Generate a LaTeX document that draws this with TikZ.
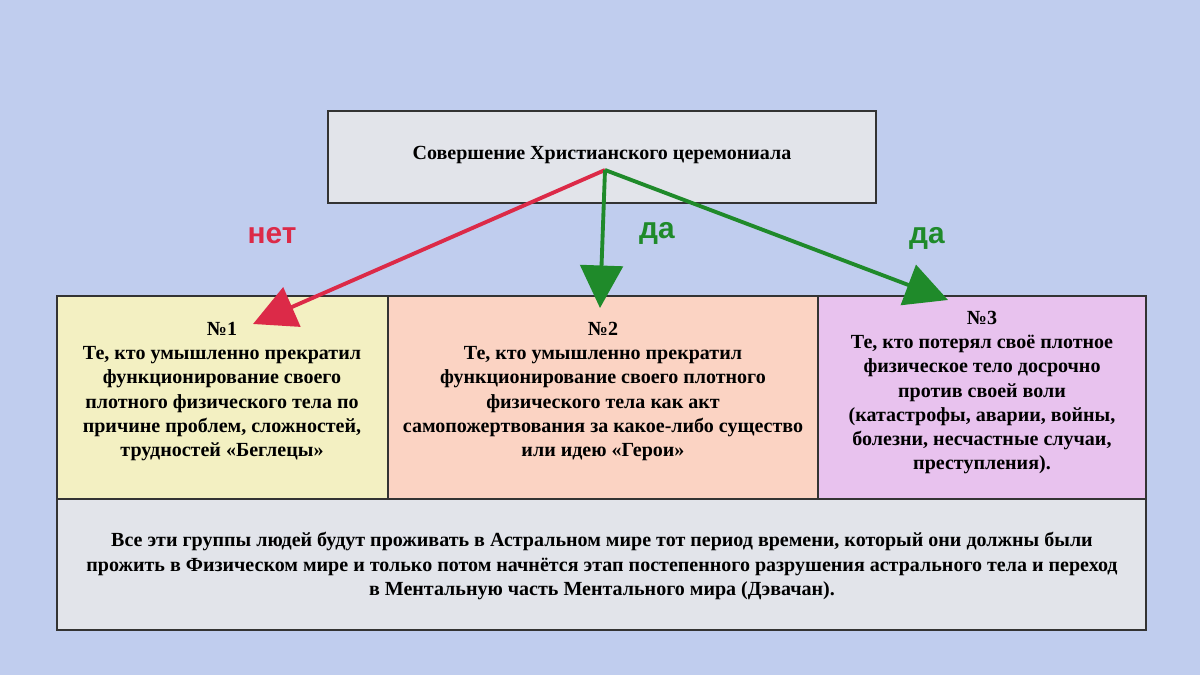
\documentclass[tikz,border=0pt]{standalone}
\usepackage{fontspec}
\setmainfont{Liberation Serif}
\newfontfamily\lblfont{Liberation Sans}
\usetikzlibrary{arrows.meta,positioning}
\definecolor{bgblue}{HTML}{C0CDEE}
\definecolor{boxgrey}{HTML}{E2E4EA}
\definecolor{boxyellow}{HTML}{F3F0C2}
\definecolor{boxpeach}{HTML}{FBD3C3}
\definecolor{boxlilac}{HTML}{E8C2EE}
\definecolor{arrred}{HTML}{DC2A48}
\definecolor{arrgreen}{HTML}{1F8A2A}
\tikzset{
  box/.style={draw=black!80, line width=0.6pt},
  txt/.style={align=center, font=\fontsize{11.4}{13.8}\selectfont\bfseries},
  lbl/.style={font=\lblfont\fontsize{17}{19}\selectfont\bfseries},
  arr/.style={line width=2.2pt, -{Triangle[length=0.85cm, width=0.85cm]}}
}
\begin{document}
\begin{tikzpicture}[x=0.02cm, y=-0.02cm]
    \fill[bgblue] (0,0) rectangle (1200,675);
    \useasboundingbox (0,0) rectangle (1200,675);
    % boxes
    \draw[box, fill=boxgrey] (328,111) rectangle (876,203);
    \draw[box, fill=boxyellow] (57,296) rectangle (388,499);
    \draw[box, fill=boxpeach] (388,296) rectangle (818,499);
    \draw[box, fill=boxlilac] (818,296) rectangle (1146,499);
    \draw[box, fill=boxgrey] (57,499) rectangle (1146,630);
    % texts
    \node (top) [txt] at (602,155) {Совершение Христианского церемониала};
    \node (g1) [txt, anchor=north] at (222,316) {№1\\Те, кто умышленно прекратил\\функционирование своего\\плотного физического тела по\\причине проблем, сложностей,\\трудностей «Беглецы»};
    \node (g2) [txt, anchor=north] at (603,316) {№2\\Те, кто умышленно прекратил\\функционирование своего плотного\\физического тела как акт\\самопожертвования за какое-либо существо\\или идею «Герои»};
    \node (g3) [txt, anchor=north] at (982,305) {№3\\Те, кто потерял своё плотное\\физическое тело досрочно\\против своей воли\\(катастрофы, аварии, войны,\\болезни, несчастные случаи,\\преступления).};
    \node (all) [txt] at (602,566) {Все эти группы людей будут проживать в Астральном мире тот период времени, который они должны были\\прожить в Физическом мире и только потом начнётся этап постепенного разрушения астрального тела и переход\\в Ментальную часть Ментального мира (Дэвачан).};
    % arrows
    \coordinate (src) at (605,170);
    \coordinate (e1) at (253,324);
    \coordinate (e2) at (600,308);
    \coordinate (e3) at (948,300);
    \draw[arr, arrred] (src) -- (e1);
    \draw[arr, arrgreen] (src) -- (e2);
    \draw[arr, arrgreen] (src) -- (e3);
    \node (no) [lbl, text=arrred] at (272,236) {нет};
    \node (yes1) [lbl, text=arrgreen] at (657,233) {да};
    \node (yes2) [lbl, text=arrgreen] at (927,238) {да};
\end{tikzpicture}
\end{document}
